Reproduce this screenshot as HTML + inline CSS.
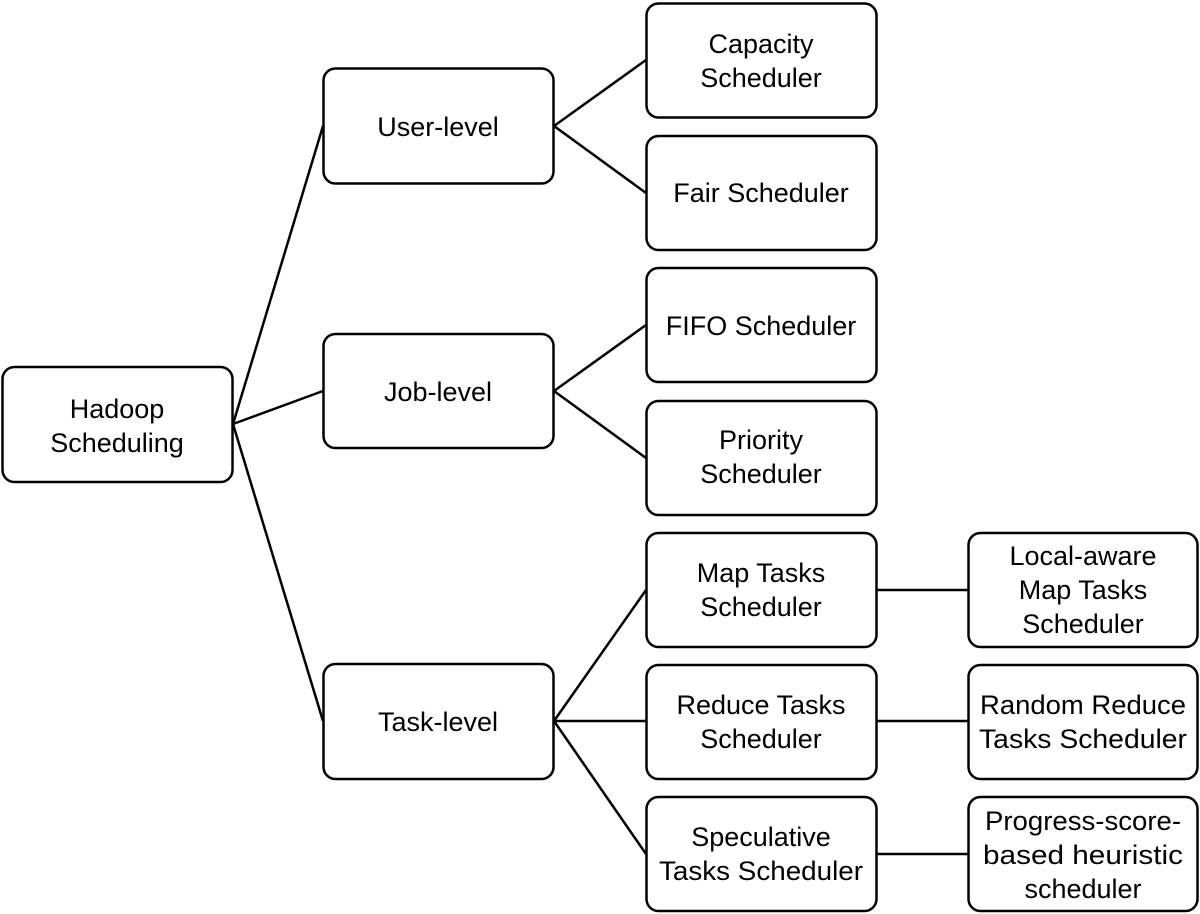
<!DOCTYPE html>
<html><head><meta charset="utf-8"><style>
html,body{margin:0;padding:0;background:#fff;width:1200px;height:914px;overflow:hidden}
svg text{font-family:"Liberation Sans",sans-serif;font-size:27px;fill:#000;text-anchor:middle}
</style></head><body>
<svg width="1200" height="914" xmlns="http://www.w3.org/2000/svg">
<g stroke="#000" stroke-width="2.5" fill="none">
<line x1="233" y1="424" x2="323" y2="126"/>
<line x1="233" y1="424" x2="323" y2="391"/>
<line x1="233" y1="424" x2="323" y2="721"/>
<line x1="554" y1="126" x2="646" y2="60"/>
<line x1="554" y1="126" x2="646" y2="193"/>
<line x1="554" y1="391" x2="646" y2="325"/>
<line x1="554" y1="391" x2="646" y2="458"/>
<line x1="554" y1="721" x2="646" y2="590"/>
<line x1="554" y1="721" x2="646" y2="721"/>
<line x1="554" y1="721" x2="646" y2="854"/>
<line x1="877" y1="590" x2="968" y2="590"/>
<line x1="877" y1="721" x2="968" y2="721"/>
<line x1="877" y1="854" x2="968" y2="854"/>
<rect x="2.5" y="367" width="230" height="115" rx="12"/>
<rect x="323.5" y="68.5" width="230" height="115" rx="12"/>
<rect x="323.5" y="334" width="230" height="114" rx="12"/>
<rect x="323.5" y="664" width="230" height="115" rx="12"/>
<rect x="646.5" y="3.5" width="230" height="114" rx="12"/>
<rect x="646.5" y="136" width="230" height="114" rx="12"/>
<rect x="646.5" y="268" width="230" height="114" rx="12"/>
<rect x="646.5" y="401" width="230" height="114" rx="12"/>
<rect x="646.5" y="533" width="230" height="114" rx="12"/>
<rect x="646.5" y="665" width="230" height="114" rx="12"/>
<rect x="646.5" y="797" width="230" height="114" rx="12"/>
<rect x="968.5" y="533" width="229" height="114" rx="12"/>
<rect x="968.5" y="665" width="229" height="114" rx="12"/>
<rect x="968.5" y="797" width="229" height="114" rx="12"/>
</g>
<text x="117" y="418">Hadoop</text><text x="117" y="452">Scheduling</text>
<text x="438" y="136">User-level</text>
<text x="438" y="401">Job-level</text>
<text x="438" y="731">Task-level</text>
<text x="761" y="53">Capacity</text><text x="761" y="87">Scheduler</text>
<text x="761" y="202">Fair Scheduler</text>
<text x="761" y="335">FIFO Scheduler</text>
<text x="761" y="449">Priority</text><text x="761" y="483">Scheduler</text>
<text x="761" y="582">Map Tasks</text><text x="761" y="616">Scheduler</text>
<text x="761" y="714">Reduce Tasks</text><text x="761" y="748">Scheduler</text>
<text x="761" y="846">Speculative</text><text x="761" y="880" textLength="204" lengthAdjust="spacingAndGlyphs">Tasks Scheduler</text>
<text x="1083" y="565">Local-aware</text><text x="1083" y="599">Map Tasks</text><text x="1083" y="633">Scheduler</text>
<text x="1083" y="714" textLength="206" lengthAdjust="spacingAndGlyphs">Random Reduce</text><text x="1083" y="748" textLength="208" lengthAdjust="spacingAndGlyphs">Tasks Scheduler</text>
<text x="1083" y="830" textLength="196" lengthAdjust="spacingAndGlyphs">Progress-score-</text><text x="1083" y="864" textLength="200" lengthAdjust="spacingAndGlyphs">based heuristic</text><text x="1083" y="898">scheduler</text>
</svg>
</body></html>
